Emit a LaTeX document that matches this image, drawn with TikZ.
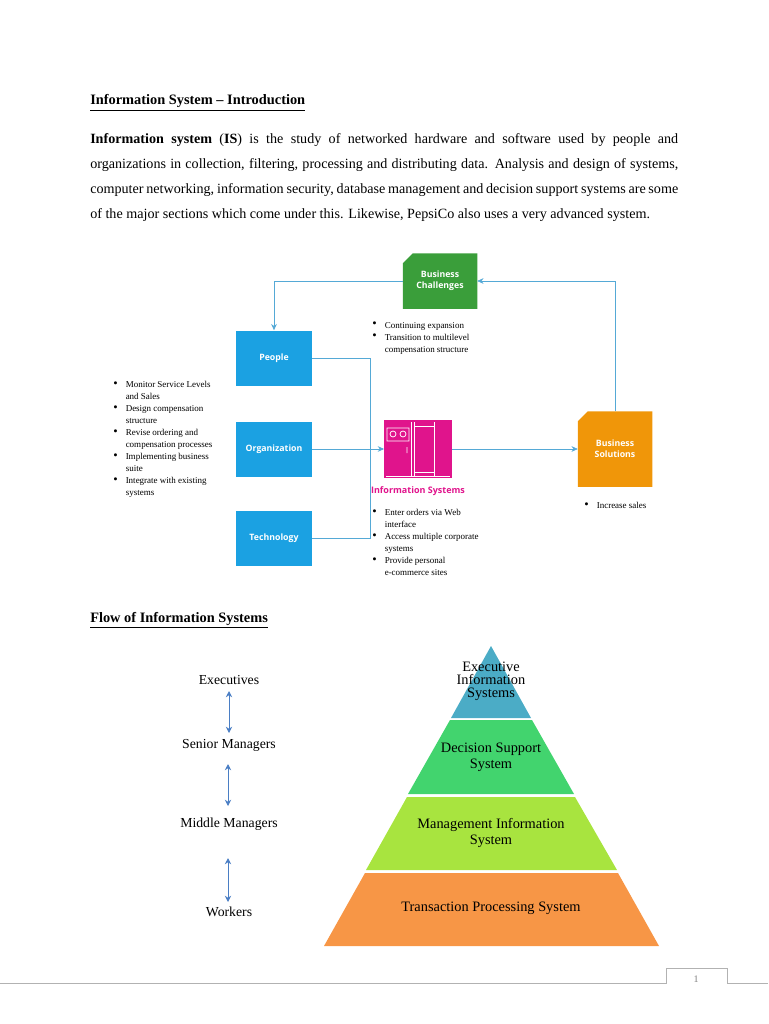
\documentclass[tikz,border=0pt]{standalone}
\usepackage{fontspec}
\setmainfont{Liberation Serif}
\newfontfamily\boxfont{Open Sans}
\usepackage{tikz}
\usetikzlibrary{positioning}
\usetikzlibrary{arrows.meta}
\definecolor{isblue}{HTML}{1BA1E2}
\definecolor{isgreen}{HTML}{3A9E3A}
\definecolor{isorange}{HTML}{F09609}
\definecolor{ismagenta}{HTML}{E0148C}
\definecolor{islink}{HTML}{55A9D6}
\definecolor{arrowblue}{HTML}{4A7EC4}
\definecolor{pyrtop}{HTML}{4BACC6}
\definecolor{pyrdss}{HTML}{42D46E}
\definecolor{pyrmis}{HTML}{A8E43F}
\definecolor{pyrtps}{HTML}{F79646}
\tikzset{
  box/.style={fill=isblue, minimum width=60.8pt, minimum height=44pt, text=white, font=\boxfont\bfseries\fontsize{7}{8.5}\selectfont, align=center},
  cutbox/.style={minimum width=59.2pt, minimum height=44pt, text=white, font=\boxfont\bfseries\fontsize{7}{8.5}\selectfont, align=center},
  link/.style={islink, thin},
  linkarrow/.style={islink, thin, -{Stealth[length=5pt,width=4.5pt]}},
  note/.style={font=\fontsize{7.2}{9.6}\selectfont, align=left, anchor=north west, inner sep=0pt},
  level/.style={font=\fontsize{11}{12}\selectfont},
  tier/.style={font=\fontsize{11.5}{12.5}\selectfont, align=center},
  updown/.style={arrowblue, thick, {Stealth[length=5pt,width=5pt]}-{Stealth[length=5pt,width=5pt]}},
}
\newcommand{\notebullet}{\makebox[10pt][l]{\raisebox{0.3pt}{\scalebox{1.4}{\textbullet}}}}
\newcommand{\fullline}[1]{\makebox[470.4pt][s]{#1}}
\begin{document}
\begin{tikzpicture}[x=0.8pt, y=-0.8pt]
  \useasboundingbox (0,0) rectangle (768,1024);

  % heading and paragraph
  \node[anchor=base west, inner sep=0pt, font=\bfseries\fontsize{11.5}{12}\selectfont] (title) at (90,105) {\underline{Information System -- Introduction}};
  \node[anchor=north west, inner sep=0pt, align=left, font=\fontsize{11.3}{20.2}\selectfont] (intro) at (90,133)
    {\fullline{\textbf{Information system} (\textbf{IS}) is the study of networked hardware and software used by people and}\\
     \fullline{organizations in collection, filtering, processing and distributing data. Analysis and design of systems,}\\
     \fullline{computer networking, information security, database management and decision support systems are some}\\
     of the major sections which come under this. Likewise, PepsiCo also uses a very advanced system.};

  % business model boxes
  \node[box] (people) at (274,358) {People};
  \node[box] (org) at (274,449) {Organization};
  \node[box] (tech) at (274,538) {Technology};
  \node[cutbox] (chall) at (440,281) {Business\\Challenges};
  \fill[isgreen] ([xshift=8pt]chall.north west) -- (chall.north east) -- (chall.south east) -- (chall.south west) -- ([yshift=-8pt]chall.north west) -- cycle;
  \node[cutbox] at (chall) {Business\\Challenges};
  \node[cutbox, minimum height=60pt] (sol) at (615,449) {Business\\Solutions};
  \fill[isorange] ([xshift=8pt]sol.north west) -- (sol.north east) -- (sol.south east) -- (sol.south west) -- ([yshift=-8pt]sol.north west) -- cycle;
  \node[cutbox] at (sol) {Business\\Solutions};

  % information systems icon
  \node[fill=ismagenta, minimum width=54pt, minimum height=46pt, inner sep=0pt] (infosys) at (418,449) {};
  \draw[white, line width=0.6pt] (411,422) -- (411,476) (414,422) -- (414,476) (434,422) -- (434,476)
    (414,426) -- (434,426) (414,472) -- (434,472) (386,476) -- (450,476);
  \draw[white, line width=0.6pt] (387,428) rectangle (409,441) (393,434) circle (3) (403,434) circle (3) (407,447) -- (407,453);
  \node[text=ismagenta, font=\boxfont\bfseries\fontsize{7.2}{8}\selectfont, below=3pt of infosys] (islabel) {Information Systems};

  % connectors
  \coordinate (bend1) at (people.north |- chall.west);
  \draw[linkarrow] (chall.west) -- (bend1) -- (people.north);
  \coordinate (bend2) at (sol.north |- chall.east);
  \draw[linkarrow] (sol.north) -- (bend2) -- (chall.east);
  \coordinate (bend3) at (370,358);
  \coordinate (bend4) at (370,538);
  \draw[link] (people.east) -- (bend3) -- (bend4) -- (tech.east);
  \draw[linkarrow] (org.east) -- (infosys.west);
  \draw[linkarrow] (infosys.east) -- (sol.west);

  % notes
  \node[note] (leftnotes) at (113,381) {\notebullet Monitor Service Levels\\\hspace*{10pt}and Sales\\\notebullet Design compensation\\\hspace*{10pt}structure\\\notebullet Revise ordering and\\\hspace*{10pt}compensation processes\\\notebullet Implementing business\\\hspace*{10pt}suite\\\notebullet Integrate with existing\\\hspace*{10pt}systems};
  \node[note] (topnotes) at (372,322) {\notebullet Continuing expansion\\\notebullet Transition to multilevel\\\hspace*{10pt}compensation structure};
  \node[note] (botnotes) at (372,509) {\notebullet Enter orders via Web\\\hspace*{10pt}interface\\\notebullet Access multiple corporate\\\hspace*{10pt}systems\\\notebullet Provide personal\\\hspace*{10pt}e-commerce sites};
  \node[note] (solnotes) at (584,502) {\notebullet Increase sales};

  % flow of information systems
  \node[anchor=base west, inner sep=0pt, font=\bfseries\fontsize{11.5}{12}\selectfont] (flow) at (90,622) {\underline{Flow of Information Systems}};
  \node[level] (exec) at (229,680) {Executives};
  \node[level] (senior) at (229,745) {Senior Managers};
  \node[level] (middle) at (229,824) {Middle Managers};
  \node[level] (workers) at (229,912) {Workers};
  \draw[updown] (229,691) -- (229,733);
  \draw[updown] (228,764) -- (228,806);
  \draw[updown] (228,858) -- (228,902);

  % pyramid
  \fill[pyrtop] (491,646) -- (531,718) -- (451,718) -- cycle;
  \fill[pyrdss] (450,720) -- (532,720) -- (574,794) -- (408,794) -- cycle;
  \fill[pyrmis] (407,797) -- (575,797) -- (617,870) -- (366,870) -- cycle;
  \fill[pyrtps] (365,873) -- (618,873) -- (659,946) -- (324,946) -- cycle;
  \node[tier] (eis) at (491,681) {Executive\\[-2pt]Information\\[-2pt]Systems};
  \node[tier] (dss) at (491,757) {Decision Support\\System};
  \node[tier] (mis) at (491,833) {Management Information\\System};
  \node[tier] (tps) at (491,908) {Transaction Processing System};

  % footer
  \draw[gray!60] (0,983) -- (666,983) -- (666,968) -- (727,968) -- (727,983) -- (768,983);
  \node[gray, font=\fontsize{8}{9}\selectfont] (page) at (696,979) {1};
\end{tikzpicture}
\end{document}
